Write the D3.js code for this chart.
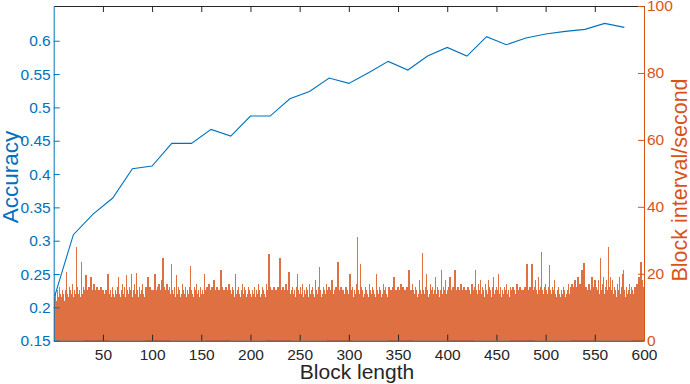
<!DOCTYPE html>
<html>
<head>
<meta charset="utf-8">
<script src="https://d3js.org/d3.v7.min.js"></script>
<style>
  body { margin: 0; background: #fff; }
  text { font-family: "Liberation Sans", Arial, sans-serif; }
</style>
</head>
<body>
<svg id="chart"></svg>
<script>
// accuracy curve (left axis)
var blockLen = [1,20,40,60,80,100,120,140,160,180,200,220,240,260,280,300,320,340,360,380,400,420,440,460,480,500,520,540,560,580];
var accuracy = [0.217,0.309,0.340,0.364,0.408,0.412,0.446,0.446,0.467,0.457,0.487,0.487,0.513,0.524,0.544,0.536,0.552,0.569,0.556,0.577,0.590,0.577,0.606,0.594,0.604,0.610,0.614,0.617,0.626,0.620];

// block interval per block, blocks 1..600 (right axis)
var interval = [
  13,14,12,15,13,16,14,13,15,14,12,15,20.6,14,13,16,15,14,17,13,15,14,28,16,14,
  15,13,23.6,14,16,15,13,19.6,14,15,16,13,19,15,14,17,15,13,16,14,15,13,16,14,15,
  14,13,15,14,20,13,14,15,13,16,14,13,15,14,16,19,14,13,15,17,14,16,13,19.5,15,
  14,16,15,20,13,15,17,14,20.3,15,13,16,14,15,17,14,13,15,16,14,19,14,16,15,14,
  15,14,20,15,13,16,17,14,15,18,24.6,16,14,15,17,13,15,16,14,22.8,15,14,16,13,19.5,
  14,16,15,13,14,17,15,14,16,13,15,14,16,22.3,15,14,13,16,15,17,14,15,13,16,14,
  15,14,20,15,13,16,14,17,15,13,16,14,18,15,14,16,13,15,14,21,16,14,15,13,16,
  14,15,17,13,15,14,16,15,13,19.8,14,15,16,14,13,15,17,14,16,15,13,14,16,15,14,
  13,15,14,16,13,15,14,17,15,13,14,16,15,14,13,17,15,14,25.9,16,14,15,13,16,14,
  15,13,16,14,24.6,15,14,16,13,15,17,14,15,20.6,14,13,15,16,14,15,13,16,20,15,14,
  16,14,17,13,15,14,16,15,13,17,14,15,16,14,13,18,15,14,16,22,15,13,14,16,15,
  14,17,15,13,16,14,15,18,14,13,15,16,14,23.6,15,14,16,13,15,14,13,16,15,14,13,
  20,14,15,16,13,15,14,17,31,15,14,23,16,15,13,14,16,15,14,13,17,15,14,16,15,
  14,13,20,15,14,16,15,13,14,17,15,16,14,13,15,16,14,15,13,16,19,14,15,13,16,
  14,15,17,14,16,13,15,14,16,15,21,14,15,13,17,15,14,16,15,13,14,18,15,14,26.3,
  15,14,16,20,15,13,14,17,15,16,14,15,19,14,16,15,13,15,21,14,16,15,18,14,15,
  16,14,19,15,13,16,14,21,15,14,16,13,15,17,14,15,16,13,15,14,16,15,13,14,17,
  14,15,16,21,15,14,17,15,18,14,16,15,13,17,15,14,18,16,15,13,16,19,14,15,16,
  15,20,14,16,13,15,14,16,15,17,14,15,13,16,15,14,16,15,13,14,17,15,14,16,15,
  13,15,14,16,15,22.8,14,15,16,14,22.8,15,13,16,18,15,14,19,15,16,26.6,15,14,16,17,
  15,14,16,22.6,15,14,16,15,18,14,13,15,16,14,13,15,14,16,15,13,14,15,17,14,16,
  15,17,14,16,18,15,16,19,15,17,16,21,15,23.3,14,16,15,13,17,15,14,19,16,15,18,
  14,16,15,18,14,24.6,15,17,19,14,16,18,15,28,16,19,15,18,14,16,15,13,17,15,19,
  14,16,20,21,15,13,16,14,15,17,14,16,15,13,14,16,15,17,14,19,16,23.6,18,15,16
];

var xTicks = [50,100,150,200,250,300,350,400,450,500,550,600];
var accTicks = [0.15,0.2,0.25,0.3,0.35,0.4,0.45,0.5,0.55,0.6];
var rightTicks = [0,20,40,60,80,100];

var W = 690, H = 384;
var plotL = 53.7, plotR = 644, plotT = 6, plotB = 340.7;
var blue = "#0072BD", orange = "#D95319", dark = "#262626";

var svg = d3.select("#chart").attr("width", W).attr("height", H);

var x = d3.scaleLinear().domain([0, 600]).range([plotL, plotR]);
var yL = d3.scaleLinear().domain([0.15, 0.6521]).range([plotB, plotT]);
var yR = d3.scaleLinear().domain([0, 100]).range([plotB, plotT]);

svg.append("clipPath").attr("id", "plotclip")
  .append("rect").attr("x", plotL).attr("y", plotT)
  .attr("width", plotR - plotL).attr("height", plotB - plotT);

// bars, crisp and slightly overlapping so the body reads as solid
var bw = (x(1) - x(0)) + 0.4;
svg.append("g").attr("clip-path", "url(#plotclip)")
  .attr("shape-rendering", "crispEdges")
  .selectAll("rect").data(interval).enter().append("rect")
  .attr("x", function(d, i) { return x(i + 1) - bw / 2; })
  .attr("y", function(d) { return yR(d); })
  .attr("width", bw)
  .attr("height", function(d) { return yR(0) - yR(d); })
  .attr("fill", "#DE7042");

// accuracy line
var line = d3.line()
  .x(function(d, i) { return x(blockLen[i]); })
  .y(function(d) { return yL(d); });
svg.append("path").datum(accuracy)
  .attr("d", line)
  .attr("fill", "none")
  .attr("stroke", blue)
  .attr("stroke-width", 1.1);

// bottom axis (ticks inward)
var xAxis = d3.axisBottom(x).tickValues(xTicks).tickSizeInner(-6).tickSizeOuter(0).tickPadding(8);
var gx = svg.append("g").attr("transform", "translate(0," + plotB + ")").call(xAxis);
gx.select(".domain").attr("stroke", dark);
gx.selectAll(".tick line").attr("stroke", dark);
gx.selectAll(".tick text").attr("fill", dark).attr("font-size", "15.5px")
  .attr("font-family", "Liberation Sans, Arial, sans-serif");

// top axis, ticks only
var topAxis = d3.axisTop(x).tickValues(xTicks).tickSizeInner(-6).tickSizeOuter(0).tickFormat("");
var gt = svg.append("g").attr("transform", "translate(0," + plotT + ")").call(topAxis);
gt.select(".domain").attr("stroke", dark);
gt.selectAll(".tick line").attr("stroke", dark);

// left axis
var yAxisL = d3.axisLeft(yL).tickValues(accTicks).tickSizeInner(-6).tickSizeOuter(0).tickPadding(3)
  .tickFormat(function(d) { return String(+d.toFixed(2)); });
var gl = svg.append("g").attr("transform", "translate(" + plotL + ",0)").call(yAxisL);
gl.select(".domain").attr("stroke", blue);
gl.selectAll(".tick line").attr("stroke", blue);
gl.selectAll(".tick text").attr("fill", blue).attr("font-size", "15.5px")
  .attr("font-family", "Liberation Sans, Arial, sans-serif");

// right axis
var yAxisR = d3.axisRight(yR).tickValues(rightTicks).tickSizeInner(-6).tickSizeOuter(0).tickPadding(3);
var gr = svg.append("g").attr("transform", "translate(" + plotR + ",0)").call(yAxisR);
gr.select(".domain").attr("stroke", orange);
gr.selectAll(".tick line").attr("stroke", orange);
gr.selectAll(".tick text").attr("fill", orange).attr("font-size", "15.5px")
  .attr("font-family", "Liberation Sans, Arial, sans-serif");

// labels
svg.append("text").attr("x", 357).attr("y", 379)
  .attr("text-anchor", "middle").attr("font-size", "21px").attr("fill", dark)
  .text("Block length");

svg.append("text").attr("transform", "translate(18,177) rotate(-90)")
  .attr("text-anchor", "middle").attr("font-size", "22.5px").attr("fill", blue)
  .text("Accuracy");

svg.append("text").attr("transform", "translate(687,180) rotate(-90)")
  .attr("text-anchor", "middle").attr("font-size", "21.5px").attr("fill", orange)
  .text("Block interval/second");
</script>
</body>
</html>
